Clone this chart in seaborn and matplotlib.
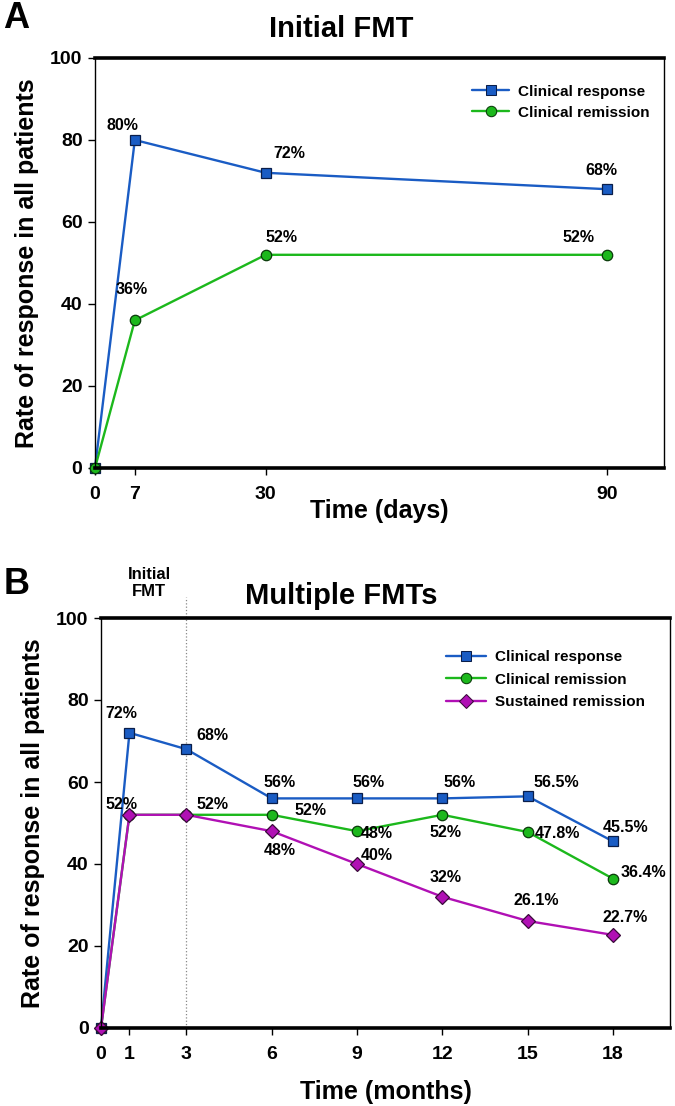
import matplotlib as mpl
import matplotlib.pyplot as plt
import pandas as pd
import seaborn as sns

# panel A: initial FMT, time in days
days = [0, 7, 30, 90]
a_response = [0, 80, 72, 68]
a_remission = [0, 36, 52, 52]

# panel B: multiple FMTs, time in months
months = [0, 1, 3, 6, 9, 12, 15, 18]
b_response = [0, 72, 68, 56, 56, 56, 56.5, 45.5]
b_remission = [0, 52, 52, 52, 48, 52, 47.8, 36.4]
b_sustained = [0, 52, 52, 48, 40, 32, 26.1, 22.7]

yticks = [0, 20, 40, 60, 80, 100]

# label offsets in pixels (dx, dy); None = no label
a_resp_off = [None, (-12, 15), (24, 19), (-6, 19)]
a_remi_off = [None, (-3, 31), (16, 17), (-29, 17)]
b_resp_off = [None, (-8, 19), (26, 14), (8, 16), (12, 16), (17, 16), (29, 14), (12, 14)]
b_remi_off = [None, (-8, 10), (26, 10), (39, 4), (20, -2), (3, -18), (30, -1), (30, 6)]
b_sust_off = [None, None, None, (8, -19), (20, 9), (3, 19), (8, 20), (12, 17)]

palette = {
    "Clinical response": "#1a5cc4",
    "Clinical remission": "#1cb81c",
    "Sustained remission": "#b010b4",
}
markers = {
    "Clinical response": "s",
    "Clinical remission": "o",
    "Sustained remission": "D",
}
edges = {
    "Clinical response": "#0a1e4a",
    "Clinical remission": "#0a3a0a",
    "Sustained remission": "#3a0a3a",
}

sns.set_theme(style="ticks")
mpl.rcParams["font.family"] = ["Liberation Sans", "DejaVu Sans"]
mpl.rcParams["font.weight"] = "bold"
mpl.rcParams["axes.labelweight"] = "bold"
mpl.rcParams["text.color"] = "black"
mpl.rcParams["axes.labelcolor"] = "black"
mpl.rcParams["xtick.color"] = "black"
mpl.rcParams["ytick.color"] = "black"


def style_axes(ax, xticks, xmax):
    ax.set_xlim(0, xmax)
    ax.set_ylim(0, 100)
    ax.set_xticks(xticks)
    ax.set_yticks(yticks)
    ax.tick_params(axis="both", direction="out", length=5, width=1,
                   labelsize=14, colors="black")
    ax.tick_params(axis="x", pad=8)
    ax.tick_params(axis="y", pad=4)
    for lab in ax.get_xticklabels() + ax.get_yticklabels():
        lab.set_fontweight("bold")
    ax.spines["top"].set_linewidth(2.6)
    ax.spines["bottom"].set_linewidth(2.6)
    ax.spines["left"].set_linewidth(1.0)
    ax.spines["right"].set_linewidth(1.0)
    for s in ax.spines.values():
        s.set_color("black")
    ax.set_ylabel("Rate of response in all patients", fontsize=18,
                  fontweight="bold", labelpad=8)


def draw_panel(ax, t, series, offsets):
    rows = []
    for name, vals in series.items():
        for x, y in zip(t, vals):
            rows.append({"time": x, "rate": y, "outcome": name})
    df = pd.DataFrame(rows)
    names = list(series.keys())
    sns.lineplot(data=df, x="time", y="rate", hue="outcome", style="outcome",
                 hue_order=names, style_order=names,
                 palette={n: palette[n] for n in names},
                 markers={n: markers[n] for n in names}, dashes=False,
                 markersize=7.5, linewidth=1.7, ax=ax)
    for line, n in zip(ax.lines, names):
        line.set_markeredgecolor(edges[n])
        line.set_markeredgewidth(0.9)
        line.set_clip_on(False)
    for (name, vals), offs in zip(series.items(), offsets):
        for x, y, off in zip(t, vals, offs):
            if off is None:
                continue
            ax.annotate(f"{y:g}%", (x, y), xytext=off, textcoords="offset pixels",
                        ha="center", va="center", fontsize=11.5, fontweight="bold",
                        color="black")


fig = plt.figure(figsize=(6.75, 11.06), dpi=100)
ax_a = fig.add_axes([95 / 675, 1 - 468 / 1106, 569 / 675, 410 / 1106])
ax_b = fig.add_axes([101 / 675, 1 - 1028 / 1106, 569 / 675, 410 / 1106])

# panel A
draw_panel(ax_a, days,
           {"Clinical response": a_response, "Clinical remission": a_remission},
           [a_resp_off, a_remi_off])
style_axes(ax_a, days, 100)
ax_a.set_xlabel("Time (days)", fontsize=18, fontweight="bold", labelpad=-3)
sns.move_legend(ax_a, "upper left", bbox_to_anchor=(0.663, 0.935), frameon=False,
                title=None, fontsize=11, borderpad=0, borderaxespad=0,
                handlelength=2.4, handletextpad=0.6, labelspacing=0.45)

# panel B
draw_panel(ax_b, months,
           {"Clinical response": b_response, "Clinical remission": b_remission,
            "Sustained remission": b_sustained},
           [b_resp_off, b_remi_off, b_sust_off])
style_axes(ax_b, months, 20)
ax_b.set_xlabel("Time (months)", fontsize=18, fontweight="bold", labelpad=12)
ax_b.axvline(3, ymin=0, ymax=1 + 21 / 410, color="#888888", linestyle=":",
             linewidth=0.9, clip_on=False, zorder=0)
sns.move_legend(ax_b, "upper left", bbox_to_anchor=(0.606, 0.921), frameon=False,
                title=None, fontsize=11, borderpad=0, borderaxespad=0,
                handlelength=2.6, handletextpad=0.6, labelspacing=0.55)

for ax in (ax_a, ax_b):
    leg = ax.get_legend()
    for h, txt in zip(leg.legend_handles, leg.get_texts()):
        h.set_markeredgecolor(edges[txt.get_text()])
        txt.set_fontweight("bold")
        txt.set_color("black")

# titles and panel letters
fig.text(341 / 675, 1 - 29 / 1106, "Initial FMT", ha="center", va="center",
         fontsize=21, fontweight="bold")
fig.text(341 / 675, 1 - 596 / 1106, "Multiple FMTs", ha="center", va="center",
         fontsize=21, fontweight="bold")
fig.text(149 / 675, 1 - 583 / 1106, "Initial\nFMT", ha="center", va="center",
         fontsize=12, fontweight="bold", linespacing=1.2)
fig.text(16 / 675, 1 - 18 / 1106, "A", ha="center", va="center",
         fontsize=26, fontweight="bold")
fig.text(17 / 675, 1 - 585 / 1106, "B", ha="center", va="center",
         fontsize=26, fontweight="bold")

plt.savefig("out.png", dpi=100)
